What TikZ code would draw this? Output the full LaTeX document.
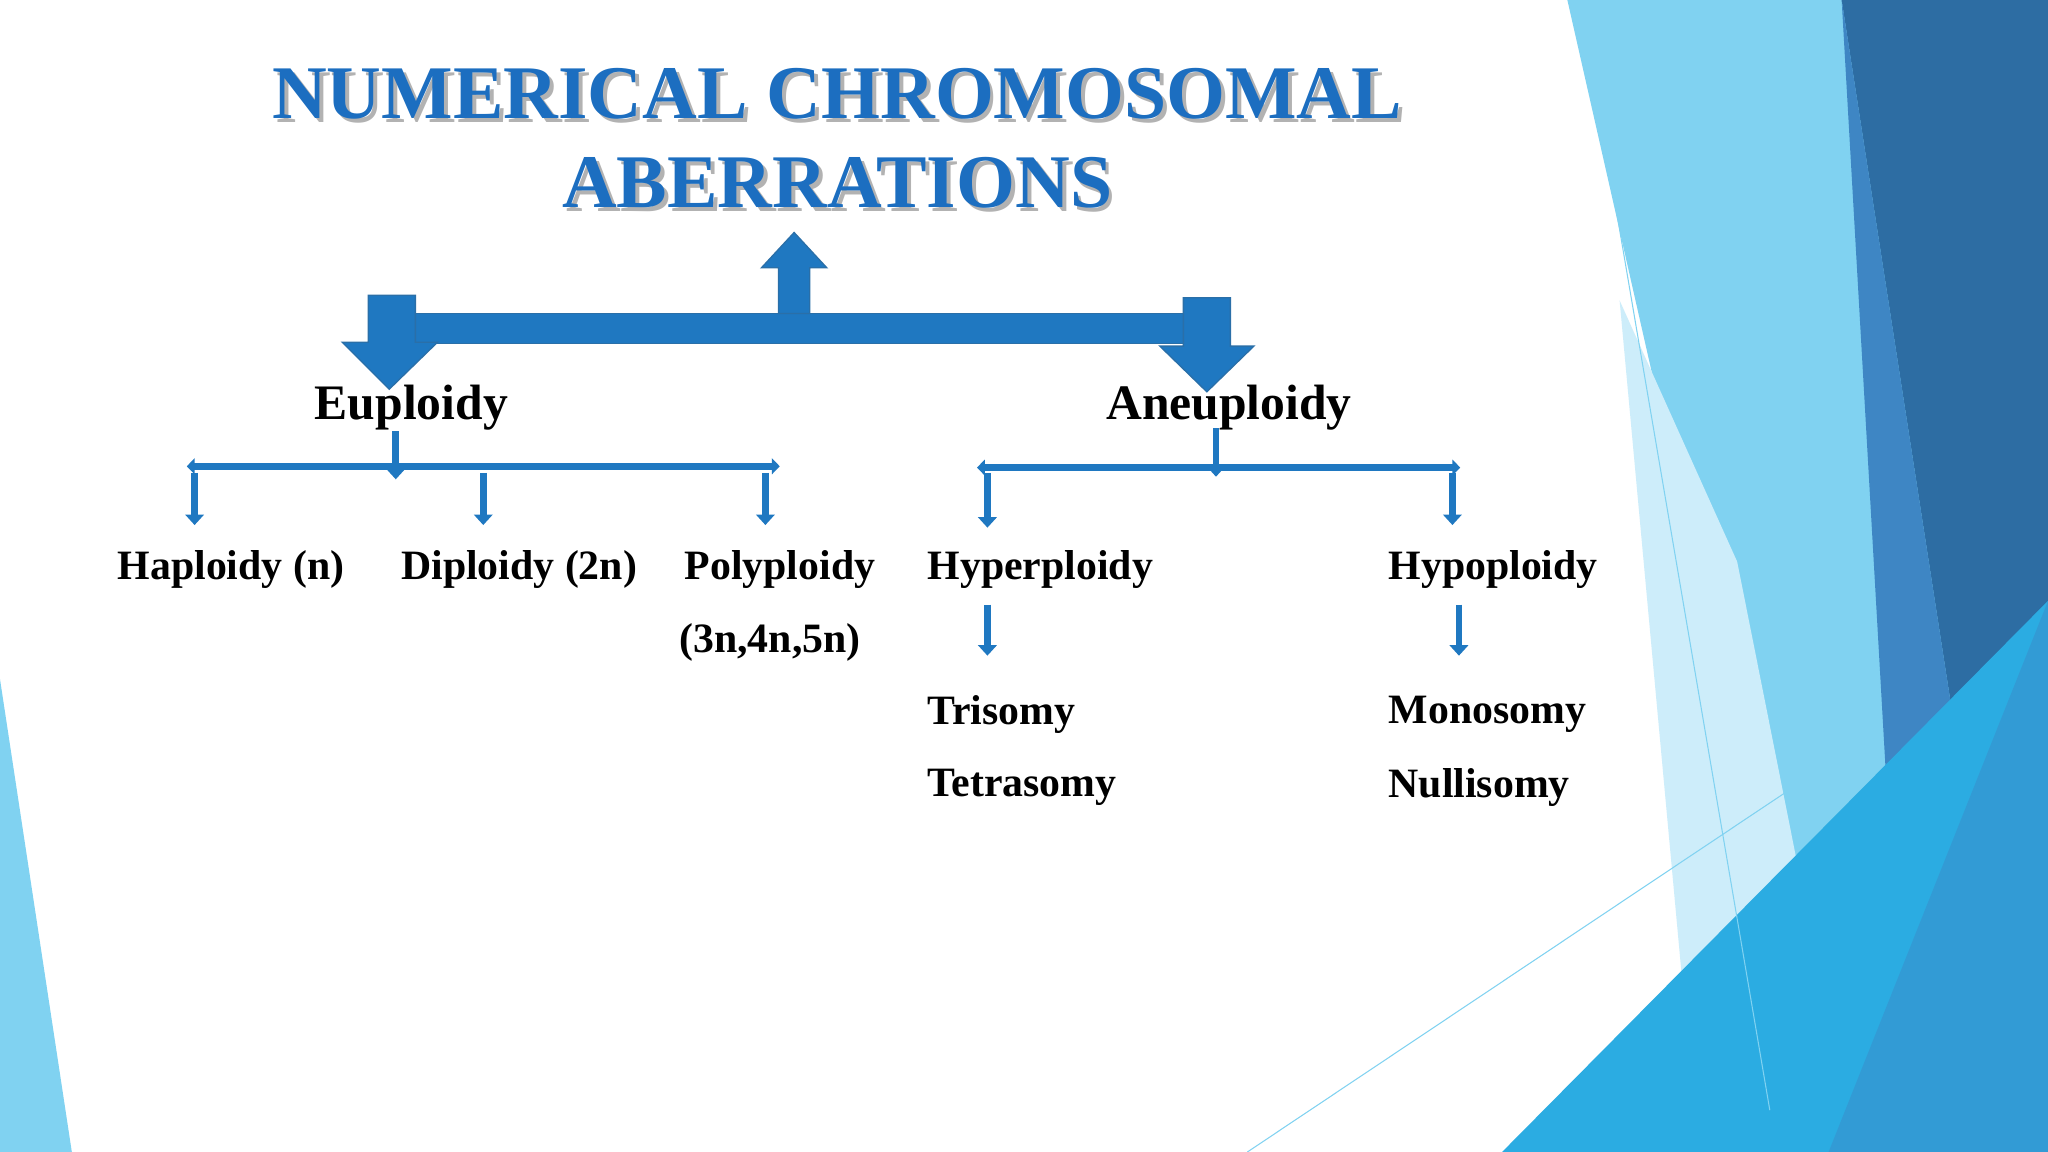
\documentclass[tikz,border=0pt]{standalone}
\usepackage{fontspec}
\usetikzlibrary{arrows.meta}
\setmainfont{Liberation Serif}
\definecolor{ttl}{HTML}{1C6EC0}
\definecolor{arr}{HTML}{1F78C1}
\definecolor{arrd}{HTML}{2A6FA8}
\definecolor{bgdark}{HTML}{2D6DA3}
\definecolor{bgmid}{HTML}{3E86C4}
\definecolor{bglight}{HTML}{80D2F1}
\definecolor{bgpale}{HTML}{CDEDFA}
\definecolor{bgbright}{HTML}{2BACE2}
\begin{document}
\begin{tikzpicture}[x=1pt,y=-1pt,
  lbl/.style={font=\bfseries\fontsize{32}{34}\selectfont,anchor=west,inner sep=0},
  big/.style={font=\bfseries\fontsize{38}{40}\selectfont,inner sep=0},
  ttlsty/.style={font=\bfseries\fontsize{58}{68}\selectfont,text=ttl,align=center},
  arrfill/.style={fill=arr,draw=arrd,line width=1pt},
  sm/.style={draw=arr,line width=5pt,-{Triangle[length=8pt,width=14pt]}},
  bar/.style={draw=arr,line width=5pt}]
\useasboundingbox (0,0) rectangle (1568,882);
\fill[white] (0,0) rectangle (1568,882);
% background
\fill[bglight] (1200,0)--(1410,0)--(1568,500)--(1568,882)--(1400,882)--cycle;
\fill[bgpale] (1240,230)--(1330,430)--(1420,882)--(1300,882)--cycle;
\fill[bgdark] (1410,0)--(1568,0)--(1568,470)--(1500,580)--cycle;
\fill[bgmid] (1410,0)--(1500,580)--(1450,700)--cycle;
\fill[bgbright] (1150,882)--(1568,460)--(1568,882)--cycle;
\fill[bgmid!60!bgbright,opacity=.7] (1400,882)--(1568,460)--(1568,882)--cycle;
\draw[bglight,line width=0.8pt] (955,882)--(1410,578);
\draw[bglight,line width=0.8pt] (1210,0)--(1355,850);
\fill[bglight] (0,520)--(55,882)--(0,882)--cycle;
% title
\node[ttlsty,text=gray!60] at (644,109) {NUMERICAL CHROMOSOMAL\\ABERRATIONS};
\node[ttlsty] (title) at (641,106) {NUMERICAL CHROMOSOMAL\\ABERRATIONS};
% big arrows
\node[big] (eu) at (315,312) {Euploidy};
\node[big] (an) at (941,312) {Aneuploidy};
\filldraw[arrfill] (300,240) rectangle (930,263);
\filldraw[arrfill] (596,240)--(596,205)--(583,205)--(608,178)--(633,205)--(620,205)--(620,240)--cycle;
\filldraw[arrfill] (282,226)--(318,226)--(318,262)--(335,262)--(298,298)--(262,262)--(282,262)--cycle;
\filldraw[arrfill] (906,228)--(942,228)--(942,265)--(960,265)--(924,300)--(888,265)--(906,265)--cycle;
% euploidy branch
\draw[bar,{Triangle[length=6pt,width=12pt]}-{Triangle[length=6pt,width=12pt]}] (143,357)--(597,357);
\draw[sm] (303,330)--(303,367);
\draw[sm] (149,362)--(149,402);
\draw[sm] (370,362)--(370,402);
\draw[sm] (586,362)--(586,402);
% aneuploidy branch
\draw[bar,{Triangle[length=6pt,width=12pt]}-{Triangle[length=6pt,width=12pt]}] (748,358)--(1118,358);
\draw[sm] (931,328)--(931,365);
\draw[sm] (756,362)--(756,404);
\draw[sm] (1112,362)--(1112,402);
% labels
\node[lbl] (hap) at (90,436) {Haploidy (n)};
\node[lbl] (dip) at (307,436) {Diploidy (2n)};
\node[lbl] (pol) at (524,436) {Polyploidy};
\node[lbl] (pol2) at (520,492) {(3n,4n,5n)};
\node[lbl] (hyper) at (710,436) {Hyperploidy};
\node[lbl] (hypo) at (1063,436) {Hypoploidy};
\draw[sm] (756,463)--(756,502);
\draw[sm] (1117,463)--(1117,502);
\node[lbl] (tri) at (710,547) {Trisomy};
\node[lbl] (tet) at (710,603) {Tetrasomy};
\node[lbl] (mono) at (1063,547) {Monosomy};
\node[lbl] (nul) at (1063,603) {Nullisomy};
\end{tikzpicture}
\end{document}
